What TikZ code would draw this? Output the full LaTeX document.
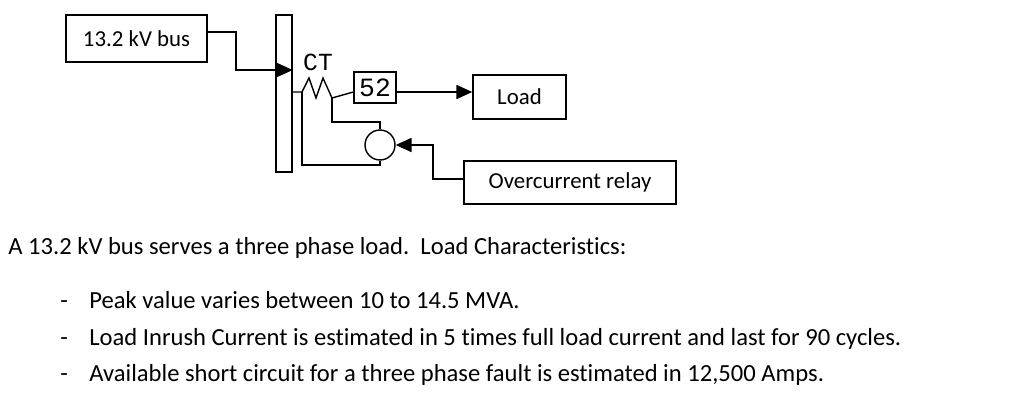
\documentclass[tikz,border=0pt]{standalone}
\usepackage{fontspec}
\setmainfont[Ligatures=NoCommon]{Carlito}
\newfontfamily\monofont{Liberation Mono}
\usetikzlibrary{positioning,arrows.meta}
\tikzset{
  blk/.style={draw,thick,inner sep=0pt,font=\fontsize{13}{15}\selectfont},
  wire/.style={thick},
  feed/.style={thick,-{Triangle[length=9pt,width=8pt]}},
  txt/.style={anchor=base west,inner sep=0pt,font=\fontsize{14}{17}\selectfont}
}
\begin{document}
\begin{tikzpicture}[x=0.02cm,y=-0.02cm]
  \useasboundingbox (0,0) rectangle (1024,403);
  % one-line diagram
  \node[blk,minimum width=141*0.02cm,minimum height=47*0.02cm] (bus) at (136.5,38.5) {13.2 kV bus};
  \node[draw,thick,minimum width=16*0.02cm,minimum height=157*0.02cm,inner sep=0pt] (bar) at (284,93.5) {};
  \node[blk,font=\monofont\fontsize{15}{17}\selectfont,minimum width=42*0.02cm,minimum height=31*0.02cm] (brk) at (375,87.5) {52};
  \node[blk,minimum width=93*0.02cm,minimum height=44*0.02cm] (load) at (519.5,97) {Load};
  \node[blk,minimum width=212*0.02cm,minimum height=43*0.02cm] (ocr) at (570,182.5) {Overcurrent relay};
  \node[draw,thick,circle,minimum size=30*0.02cm,inner sep=0pt] (rel) at (380,145) {};
  \node[inner sep=0pt,font=\monofont\fontsize{14}{16}\selectfont] (ctl) at (318,62) {CT};
  \coordinate (cta) at (302,92);
  \coordinate (ctb) at (332,98);
  \draw[feed] (bus.east |- 0,32) -| (236,70) -- (bar.east |- 0,70);
  \draw[wire] (bar.east |- cta) -- (cta) -- (309,78) -- (316,98) -- (323,78) -- (ctb);
  \draw[wire] (ctb) -- (brk.west |- 0,92) ;
  \draw[wire] (cta) -- (302,165) -- (rel.south |- 0,165) -- (rel.south);
  \draw[wire] (ctb) |- (rel.north |- 0,122) -- (rel.north);
  \draw[feed] (brk.east |- 0,92) -- (load.west |- 0,92);
  \draw[feed] (ocr.west |- 0,179) -| (433,145) -- (rel.east);
  % description
  \node[txt] (head) at (8,254) {A 13.2 kV bus serves a three phase load.\ \ Load Characteristics:};
  \foreach \yy/\t [count=\i] in {308/{Peak value varies between 10 to 14.5 MVA.},
      345/{Load Inrush Current is estimated in 5 times full load current and last for 90 cycles.},
      381/{Available short circuit for a three phase fault is estimated in 12,500 Amps.}} {
    \node[txt] (dash\i) at (60,\yy) {-};
    \node[txt] (item\i) at (89,\yy) {\t};
  }
\end{tikzpicture}
\end{document}
